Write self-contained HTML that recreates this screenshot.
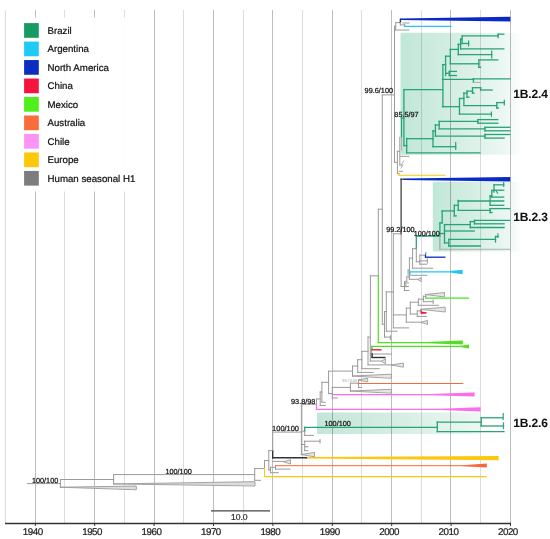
<!DOCTYPE html>
<html><head><meta charset="utf-8"><style>
html,body{margin:0;padding:0;background:#fff;width:550px;height:539px;overflow:hidden}
svg{display:block;font-family:"Liberation Sans",Arial,sans-serif}
text{stroke:#111;stroke-width:0.22px;paint-order:stroke;text-rendering:geometricPrecision}
</style></head><body>
<svg width="550" height="539" viewBox="0 0 550 539">

<line x1="5.5" y1="10" x2="5.5" y2="523.5" stroke="#dcdcdc" stroke-width="1"/>
<line x1="35.5" y1="10" x2="35.5" y2="523.5" stroke="#bdbdbd" stroke-width="1"/>
<line x1="64.5" y1="10" x2="64.5" y2="523.5" stroke="#dcdcdc" stroke-width="1"/>
<line x1="94.5" y1="10" x2="94.5" y2="523.5" stroke="#bdbdbd" stroke-width="1"/>
<line x1="124.5" y1="10" x2="124.5" y2="523.5" stroke="#dcdcdc" stroke-width="1"/>
<line x1="154.5" y1="10" x2="154.5" y2="523.5" stroke="#bdbdbd" stroke-width="1"/>
<line x1="183.5" y1="10" x2="183.5" y2="523.5" stroke="#dcdcdc" stroke-width="1"/>
<line x1="213.5" y1="10" x2="213.5" y2="523.5" stroke="#bdbdbd" stroke-width="1"/>
<line x1="243.5" y1="10" x2="243.5" y2="523.5" stroke="#dcdcdc" stroke-width="1"/>
<line x1="272.5" y1="10" x2="272.5" y2="523.5" stroke="#bdbdbd" stroke-width="1"/>
<line x1="302.5" y1="10" x2="302.5" y2="523.5" stroke="#dcdcdc" stroke-width="1"/>
<line x1="332.5" y1="10" x2="332.5" y2="523.5" stroke="#bdbdbd" stroke-width="1"/>
<line x1="361.5" y1="10" x2="361.5" y2="523.5" stroke="#dcdcdc" stroke-width="1"/>
<line x1="391.5" y1="10" x2="391.5" y2="523.5" stroke="#bdbdbd" stroke-width="1"/>
<line x1="421.5" y1="10" x2="421.5" y2="523.5" stroke="#dcdcdc" stroke-width="1"/>
<line x1="450.5" y1="10" x2="450.5" y2="523.5" stroke="#bdbdbd" stroke-width="1"/>
<line x1="480.5" y1="10" x2="480.5" y2="523.5" stroke="#dcdcdc" stroke-width="1"/>
<line x1="510.5" y1="10" x2="510.5" y2="523.5" stroke="#bdbdbd" stroke-width="1"/>
<defs>
<linearGradient id="g1" x1="0" x2="1" y1="0" y2="0">
<stop offset="0" stop-color="#c0e7d7"/><stop offset="0.5" stop-color="#d7efe5"/><stop offset="0.86" stop-color="#ecf7f3"/><stop offset="1" stop-color="#fdfefd"/></linearGradient>
<linearGradient id="g2" x1="0" x2="1" y1="0" y2="0">
<stop offset="0" stop-color="#c2e6d7"/><stop offset="0.5" stop-color="#d6eee4"/><stop offset="1" stop-color="#edf8f3"/></linearGradient>
</defs>
<rect x="400.5" y="32.7" width="120.5" height="122.1" rx="1.8" fill="url(#g1)" style="mix-blend-mode:multiply"/>
<rect x="432.8" y="181.7" width="88" height="69.9" rx="1" fill="url(#g1)" style="mix-blend-mode:multiply"/>
<rect x="317" y="412.4" width="163.5" height="21.6" rx="0.5" fill="url(#g2)" style="mix-blend-mode:multiply"/>
<line x1="5" y1="523.5" x2="511" y2="523.5" stroke="#333" stroke-width="1.3"/>
<line x1="35.3" y1="523" x2="35.3" y2="526" stroke="#333" stroke-width="1"/>
<text x="32.7" y="534.7" font-size="9.8" text-anchor="middle" fill="#222" letter-spacing="-0.5">1940</text>
<line x1="94.7" y1="523" x2="94.7" y2="526" stroke="#333" stroke-width="1"/>
<text x="92.1" y="534.7" font-size="9.8" text-anchor="middle" fill="#222" letter-spacing="-0.5">1950</text>
<line x1="154.1" y1="523" x2="154.1" y2="526" stroke="#333" stroke-width="1"/>
<text x="151.5" y="534.7" font-size="9.8" text-anchor="middle" fill="#222" letter-spacing="-0.5">1960</text>
<line x1="213.5" y1="523" x2="213.5" y2="526" stroke="#333" stroke-width="1"/>
<text x="210.9" y="534.7" font-size="9.8" text-anchor="middle" fill="#222" letter-spacing="-0.5">1970</text>
<line x1="272.9" y1="523" x2="272.9" y2="526" stroke="#333" stroke-width="1"/>
<text x="270.3" y="534.7" font-size="9.8" text-anchor="middle" fill="#222" letter-spacing="-0.5">1980</text>
<line x1="332.3" y1="523" x2="332.3" y2="526" stroke="#333" stroke-width="1"/>
<text x="329.7" y="534.7" font-size="9.8" text-anchor="middle" fill="#222" letter-spacing="-0.5">1990</text>
<line x1="391.7" y1="523" x2="391.7" y2="526" stroke="#333" stroke-width="1"/>
<text x="389.1" y="534.7" font-size="9.8" text-anchor="middle" fill="#222" letter-spacing="-0.5">2000</text>
<line x1="451.1" y1="523" x2="451.1" y2="526" stroke="#333" stroke-width="1"/>
<text x="448.5" y="534.7" font-size="9.8" text-anchor="middle" fill="#222" letter-spacing="-0.5">2010</text>
<line x1="510.5" y1="523" x2="510.5" y2="526" stroke="#333" stroke-width="1"/>
<text x="507.9" y="534.7" font-size="9.8" text-anchor="middle" fill="#222" letter-spacing="-0.5">2020</text>
<line x1="211" y1="510.9" x2="270" y2="510.9" stroke="#444" stroke-width="1.3"/>
<text x="239.3" y="520.4" font-size="8.6" text-anchor="middle" fill="#333">10.0</text>
<text x="513.3" y="98.3" font-size="12" font-weight="bold" fill="#111" letter-spacing="-0.15" style="stroke-width:0.05px">1B.2.4</text>
<text x="513.3" y="221" font-size="12" font-weight="bold" fill="#111" letter-spacing="-0.15" style="stroke-width:0.05px">1B.2.3</text>
<text x="513.3" y="427.1" font-size="12" font-weight="bold" fill="#111" letter-spacing="-0.15" style="stroke-width:0.05px">1B.2.6</text>
<rect x="16" y="17.5" width="130" height="174" fill="#fff" opacity="0.94"/>
<rect x="24.1" y="23.10" width="14.7" height="14.7" fill="#169b62"/>
<text x="47.5" y="33.80" font-size="9.7" fill="#111">Brazil</text>
<rect x="24.1" y="41.58" width="14.7" height="14.7" fill="#1ecbf5"/>
<text x="47.5" y="52.28" font-size="9.7" fill="#111">Argentina</text>
<rect x="24.1" y="60.06" width="14.7" height="14.7" fill="#0a2fc0"/>
<text x="47.5" y="70.76" font-size="9.7" fill="#111">North America</text>
<rect x="24.1" y="78.54" width="14.7" height="14.7" fill="#f5133f"/>
<text x="47.5" y="89.24" font-size="9.7" fill="#111">China</text>
<rect x="24.1" y="97.02" width="14.7" height="14.7" fill="#4ef01c"/>
<text x="47.5" y="107.72" font-size="9.7" fill="#111">Mexico</text>
<rect x="24.1" y="115.50" width="14.7" height="14.7" fill="#f96c3c"/>
<text x="47.5" y="126.20" font-size="9.7" fill="#111">Australia</text>
<rect x="24.1" y="133.98" width="14.7" height="14.7" fill="#fb94f5"/>
<text x="47.5" y="144.68" font-size="9.7" fill="#111">Chile</text>
<rect x="24.1" y="152.46" width="14.7" height="14.7" fill="#fec80a"/>
<text x="47.5" y="163.16" font-size="9.7" fill="#111">Europe</text>
<rect x="24.1" y="170.94" width="14.7" height="14.7" fill="#7d7d7d"/>
<text x="47.5" y="181.64" font-size="9.7" fill="#111">Human seasonal H1</text>
<g stroke-linecap="square">
<line x1="27.4" y1="483.6" x2="60.4" y2="483.6" stroke="#9a9a9a" stroke-width="1"/>
<line x1="60.4" y1="479.5" x2="60.4" y2="487.2" stroke="#9a9a9a" stroke-width="1"/>
<line x1="60.4" y1="479.5" x2="113.6" y2="479.5" stroke="#9a9a9a" stroke-width="1"/>
<polygon points="60.4,487.2 136.3,486 136.3,489.3" fill="#dcdcdc" stroke="#9a9a9a" stroke-width="0.9"/>
<line x1="113.6" y1="474.6" x2="113.6" y2="483.9" stroke="#9a9a9a" stroke-width="1"/>
<line x1="113.6" y1="474.6" x2="254.7" y2="474.6" stroke="#9a9a9a" stroke-width="1"/>
<polygon points="113.6,483.9 255,481.7 255,485.5" fill="#dcdcdc" stroke="#9a9a9a" stroke-width="0.9"/>
<line x1="254.7" y1="468.6" x2="254.7" y2="480.3" stroke="#9a9a9a" stroke-width="1"/>
<line x1="254.7" y1="480.3" x2="260.5" y2="480.3" stroke="#9a9a9a" stroke-width="1"/>
<line x1="254.7" y1="468.6" x2="264.5" y2="468.6" stroke="#9a9a9a" stroke-width="1"/>
<line x1="264.5" y1="460.5" x2="264.5" y2="468.6" stroke="#9a9a9a" stroke-width="1"/>
<line x1="264.5" y1="468.6" x2="264.5" y2="476.6" stroke="#fdc612" stroke-width="1"/>
<line x1="264.5" y1="476.6" x2="486.2" y2="476.6" stroke="#fdc612" stroke-width="1.1"/>
<line x1="264.5" y1="460.5" x2="268.8" y2="460.5" stroke="#9a9a9a" stroke-width="1"/>
<line x1="268.8" y1="450.6" x2="268.8" y2="470" stroke="#9a9a9a" stroke-width="1"/>
<line x1="268.8" y1="450.6" x2="272.7" y2="450.6" stroke="#9a9a9a" stroke-width="1"/>
<line x1="268.8" y1="470" x2="270.5" y2="470" stroke="#9a9a9a" stroke-width="1"/>
<line x1="270.5" y1="467.3" x2="270.5" y2="472.7" stroke="#9a9a9a" stroke-width="1"/>
<line x1="270.5" y1="467.3" x2="275.5" y2="467.3" stroke="#9a9a9a" stroke-width="1"/>
<line x1="275.5" y1="465.7" x2="275.5" y2="469.1" stroke="#9a9a9a" stroke-width="1"/>
<line x1="275.5" y1="465.7" x2="462" y2="465.7" stroke="#f7683a" stroke-width="1"/>
<polygon points="462,465.2 486.8,463.5 486.8,467.5 462,466.2" fill="#f7683a"/>
<line x1="275.5" y1="469.1" x2="290" y2="469.1" stroke="#9a9a9a" stroke-width="1"/>
<line x1="270.5" y1="472.7" x2="278.3" y2="472.7" stroke="#9a9a9a" stroke-width="1"/>
<line x1="272.7" y1="461.4" x2="284" y2="461.4" stroke="#9a9a9a" stroke-width="1"/>
<polygon points="284,461.6 290.5,459.70000000000005 290.5,463.5" fill="#e6e6e6" stroke="#9a9a9a" stroke-width="0.9" stroke-linejoin="miter"/>
<line x1="272.7" y1="450.6" x2="272.7" y2="457.7" stroke="#333333" stroke-width="1.4"/>
<line x1="272.7" y1="457.7" x2="307" y2="457.7" stroke="#333333" stroke-width="1.4"/>
<polygon points="307,457 498.6,455.9 498.6,460.3 307,458.5" fill="#fdc612"/>
<line x1="272.7" y1="432.1" x2="272.7" y2="450.6" stroke="#9a9a9a" stroke-width="1"/>
<line x1="272.7" y1="432.1" x2="301.4" y2="432.1" stroke="#9a9a9a" stroke-width="1"/>
<line x1="301.4" y1="404.2" x2="301.4" y2="454.6" stroke="#9a9a9a" stroke-width="1"/>
<line x1="301.4" y1="404.2" x2="316.5" y2="404.2" stroke="#9a9a9a" stroke-width="1"/>
<line x1="301.4" y1="431.2" x2="304.7" y2="431.2" stroke="#9a9a9a" stroke-width="1"/>
<line x1="304.7" y1="427.3" x2="304.7" y2="431.2" stroke="#27a375" stroke-width="1.3"/>
<line x1="304.7" y1="427.3" x2="437.3" y2="427.3" stroke="#27a375" stroke-width="1.3"/>
<line x1="304.7" y1="431.2" x2="304.7" y2="435.4" stroke="#9a9a9a" stroke-width="1"/>
<line x1="304.7" y1="435.4" x2="313.4" y2="435.4" stroke="#9a9a9a" stroke-width="1"/>
<line x1="301.4" y1="444.5" x2="304.7" y2="444.5" stroke="#9a9a9a" stroke-width="1"/>
<line x1="304.7" y1="441.2" x2="304.7" y2="450.7" stroke="#9a9a9a" stroke-width="1"/>
<line x1="304.7" y1="441.2" x2="320" y2="441.2" stroke="#9a9a9a" stroke-width="1"/>
<line x1="320" y1="439.5" x2="320" y2="443" stroke="#9a9a9a" stroke-width="1"/>
<line x1="304.7" y1="446.8" x2="308" y2="446.8" stroke="#9a9a9a" stroke-width="1"/>
<line x1="304.7" y1="450.7" x2="308" y2="450.7" stroke="#9a9a9a" stroke-width="1"/>
<polygon points="301.4,454.4 314.5,452.5 314.5,456.29999999999995" fill="#e6e6e6" stroke="#9a9a9a" stroke-width="0.9" stroke-linejoin="miter"/>
<line x1="437.3" y1="422.2" x2="437.3" y2="431.6" stroke="#27a375" stroke-width="1.3"/>
<line x1="437.3" y1="422.2" x2="481.2" y2="422.2" stroke="#27a375" stroke-width="1.3"/>
<line x1="437.3" y1="431.7" x2="504" y2="431.7" stroke="#27a375" stroke-width="1.3"/>
<line x1="481.2" y1="417.8" x2="481.2" y2="426" stroke="#27a375" stroke-width="1.3"/>
<line x1="481.2" y1="417.8" x2="502.5" y2="417.8" stroke="#27a375" stroke-width="1.3"/>
<line x1="481.2" y1="426" x2="503.5" y2="426" stroke="#27a375" stroke-width="1.3"/>
<line x1="503.2" y1="413.5" x2="503.2" y2="419.5" stroke="#27a375" stroke-width="1.2"/>
<line x1="503.5" y1="423" x2="503.5" y2="428.5" stroke="#27a375" stroke-width="1.2"/>
<line x1="316.5" y1="399" x2="316.5" y2="404.2" stroke="#9a9a9a" stroke-width="1"/>
<line x1="316.5" y1="404.2" x2="316.5" y2="409.3" stroke="#fb6cef" stroke-width="1.2"/>
<line x1="316.5" y1="409.3" x2="440" y2="409.3" stroke="#fb6cef" stroke-width="1.2"/>
<polygon points="440,408.7 480.6,407.2 480.6,411.40000000000003 440,409.90000000000003" fill="#fb6cef"/>
<line x1="316.5" y1="399" x2="320.2" y2="399" stroke="#9a9a9a" stroke-width="1"/>
<line x1="320.2" y1="392" x2="320.2" y2="405.5" stroke="#9a9a9a" stroke-width="1"/>
<line x1="320.2" y1="392" x2="321.9" y2="392" stroke="#9a9a9a" stroke-width="1"/>
<line x1="320.2" y1="405.5" x2="325.3" y2="405.5" stroke="#9a9a9a" stroke-width="1"/>
<line x1="321.9" y1="382.3" x2="321.9" y2="402.2" stroke="#9a9a9a" stroke-width="1"/>
<line x1="321.9" y1="402.2" x2="325.3" y2="402.2" stroke="#9a9a9a" stroke-width="1"/>
<line x1="321.9" y1="382.3" x2="328.6" y2="382.3" stroke="#9a9a9a" stroke-width="1"/>
<line x1="328.6" y1="371.3" x2="328.6" y2="393.6" stroke="#9a9a9a" stroke-width="1"/>
<line x1="328.6" y1="393.6" x2="332.3" y2="393.6" stroke="#9a9a9a" stroke-width="1"/>
<line x1="332.3" y1="387.4" x2="332.3" y2="394.5" stroke="#9a9a9a" stroke-width="1"/>
<line x1="332.5" y1="394.6" x2="430" y2="394.6" stroke="#fb6cef" stroke-width="1.2"/>
<polygon points="430,394.0 474.6,392.6 474.6,396.6 430,395.20000000000005" fill="#fb6cef"/>
<line x1="332.3" y1="398" x2="337.4" y2="398" stroke="#9a9a9a" stroke-width="1"/>
<line x1="332.3" y1="394.5" x2="332.3" y2="398" stroke="#9a9a9a" stroke-width="1"/>
<line x1="332.3" y1="387.4" x2="350.4" y2="387.4" stroke="#9a9a9a" stroke-width="1"/>
<line x1="350.4" y1="383.2" x2="350.4" y2="391" stroke="#9a9a9a" stroke-width="1"/>
<polygon points="350.4,391 391.4,389.3 391.4,392.7" fill="#e6e6e6" stroke="#9a9a9a" stroke-width="0.9" stroke-linejoin="miter"/>
<line x1="350.4" y1="383.2" x2="358.5" y2="383.2" stroke="#9a9a9a" stroke-width="1"/>
<line x1="358.5" y1="379.8" x2="358.5" y2="387.4" stroke="#9a9a9a" stroke-width="1"/>
<polygon points="358.5,379.8 367.7,378.3 367.7,381.3" fill="#e6e6e6" stroke="#9a9a9a" stroke-width="0.9" stroke-linejoin="miter"/>
<line x1="358.5" y1="383.5" x2="462.8" y2="383.5" stroke="#f7683a" stroke-width="1.1"/>
<line x1="358.5" y1="387.4" x2="361.3" y2="387.4" stroke="#9a9a9a" stroke-width="1"/>
<text x="349.7" y="382.4" font-size="3.8" fill="#a0a0a0" style="stroke:none" text-anchor="middle">99.7/100</text>
<line x1="328.6" y1="371.1" x2="352.5" y2="371.1" stroke="#9a9a9a" stroke-width="1"/>
<line x1="352.5" y1="366.1" x2="352.5" y2="376" stroke="#9a9a9a" stroke-width="1"/>
<polygon points="352.5,376 391.4,374.2 391.4,377.8" fill="#e6e6e6" stroke="#9a9a9a" stroke-width="0.9" stroke-linejoin="miter"/>
<line x1="352.5" y1="366.1" x2="357.7" y2="366.1" stroke="#9a9a9a" stroke-width="1"/>
<line x1="357.7" y1="359.7" x2="357.7" y2="372.6" stroke="#9a9a9a" stroke-width="1"/>
<line x1="357.7" y1="372.4" x2="373.3" y2="372.4" stroke="#9a9a9a" stroke-width="1"/>
<line x1="357.7" y1="359.7" x2="361.9" y2="359.7" stroke="#9a9a9a" stroke-width="1"/>
<line x1="361.9" y1="351.3" x2="361.9" y2="368.7" stroke="#9a9a9a" stroke-width="1"/>
<line x1="361.9" y1="368.7" x2="379.3" y2="368.7" stroke="#9a9a9a" stroke-width="1"/>
<line x1="361.9" y1="351.3" x2="368" y2="351.3" stroke="#9a9a9a" stroke-width="1"/>
<line x1="368" y1="337.1" x2="368" y2="364.9" stroke="#9a9a9a" stroke-width="1"/>
<line x1="368" y1="364.9" x2="391.4" y2="364.9" stroke="#9a9a9a" stroke-width="1"/>
<polygon points="391.4,364.9 403.4,363.09999999999997 403.4,366.7" fill="#e6e6e6" stroke="#9a9a9a" stroke-width="0.9" stroke-linejoin="miter"/>
<line x1="368" y1="337.1" x2="370.2" y2="337.1" stroke="#9a9a9a" stroke-width="1"/>
<line x1="370.3" y1="313.6" x2="370.3" y2="361" stroke="#9a9a9a" stroke-width="1"/>
<line x1="371.4" y1="346.4" x2="371.4" y2="357.5" stroke="#9a9a9a" stroke-width="1"/>
<line x1="370.3" y1="361" x2="382" y2="361" stroke="#9a9a9a" stroke-width="1"/>
<polygon points="382,361 385.4,358.7 385.4,363.3" fill="#e6e6e6" stroke="#9a9a9a" stroke-width="0.9" stroke-linejoin="miter"/>
<line x1="370.3" y1="354" x2="391.4" y2="354" stroke="#9a9a9a" stroke-width="1"/>
<line x1="372.2" y1="346.4" x2="372.2" y2="349.8" stroke="#4fe01f" stroke-width="1.2"/>
<line x1="372.2" y1="346.4" x2="460.5" y2="346.4" stroke="#4fe01f" stroke-width="1.2"/>
<polygon points="460.5,345.8 469,344.5 469,348.6 460.5,347" fill="#4fe01f"/>
<line x1="372.2" y1="349.8" x2="380.9" y2="349.8" stroke="#f0184a" stroke-width="1.4"/>
<line x1="372.2" y1="353.5" x2="372.2" y2="357.5" stroke="#333333" stroke-width="1.2"/>
<line x1="372.2" y1="357.5" x2="384.8" y2="357.5" stroke="#333333" stroke-width="1.4"/>
<line x1="370.4" y1="275.8" x2="370.4" y2="313.6" stroke="#9a9a9a" stroke-width="1"/>
<line x1="370.4" y1="275.8" x2="378.3" y2="275.8" stroke="#9a9a9a" stroke-width="1"/>
<line x1="378.3" y1="209.2" x2="378.3" y2="275.8" stroke="#9a9a9a" stroke-width="1"/>
<line x1="378.3" y1="275.8" x2="378.3" y2="342.6" stroke="#4fe01f" stroke-width="1.2"/>
<line x1="378.3" y1="342.6" x2="425" y2="342.6" stroke="#4fe01f" stroke-width="1.2"/>
<polygon points="425,341.9 462.8,340.5 462.8,344.5 425,343.3" fill="#4fe01f"/>
<line x1="378.3" y1="209.2" x2="382.3" y2="209.2" stroke="#9a9a9a" stroke-width="1"/>
<line x1="382.3" y1="94.9" x2="382.3" y2="324.2" stroke="#9a9a9a" stroke-width="1"/>
<line x1="382.3" y1="94.9" x2="394.5" y2="94.9" stroke="#9a9a9a" stroke-width="1"/>
<line x1="382.3" y1="324.2" x2="384.5" y2="324.2" stroke="#9a9a9a" stroke-width="1"/>
<line x1="384.5" y1="311.5" x2="384.5" y2="337.1" stroke="#9a9a9a" stroke-width="1"/>
<line x1="384.5" y1="337.1" x2="390.4" y2="337.1" stroke="#9a9a9a" stroke-width="1"/>
<line x1="390.4" y1="335.7" x2="390.4" y2="339.6" stroke="#9a9a9a" stroke-width="1"/>
<line x1="384.5" y1="311.5" x2="386.3" y2="311.5" stroke="#9a9a9a" stroke-width="1"/>
<line x1="386.3" y1="291.9" x2="386.3" y2="331.2" stroke="#9a9a9a" stroke-width="1"/>
<line x1="386.3" y1="331.2" x2="397" y2="331.2" stroke="#9a9a9a" stroke-width="1"/>
<line x1="386.3" y1="291.9" x2="393.3" y2="291.9" stroke="#9a9a9a" stroke-width="1"/>
<line x1="393.3" y1="233.8" x2="393.3" y2="327.9" stroke="#9a9a9a" stroke-width="1"/>
<line x1="393.3" y1="327.9" x2="408.7" y2="327.9" stroke="#9a9a9a" stroke-width="1"/>
<line x1="393.3" y1="314.9" x2="406.3" y2="314.9" stroke="#9a9a9a" stroke-width="1"/>
<line x1="406.3" y1="308.4" x2="406.3" y2="322.2" stroke="#9a9a9a" stroke-width="1"/>
<line x1="406.3" y1="322.2" x2="421.7" y2="322.2" stroke="#9a9a9a" stroke-width="1"/>
<polygon points="421.7,322.2 427.5,320.4 427.5,324.0" fill="#e6e6e6" stroke="#9a9a9a" stroke-width="0.9" stroke-linejoin="miter"/>
<line x1="406.3" y1="308.1" x2="410.3" y2="308.1" stroke="#9a9a9a" stroke-width="1"/>
<line x1="410.3" y1="302.2" x2="410.3" y2="314" stroke="#9a9a9a" stroke-width="1"/>
<line x1="410.3" y1="302.2" x2="418.4" y2="302.2" stroke="#9a9a9a" stroke-width="1"/>
<line x1="417.3" y1="310.9" x2="417.3" y2="316.4" stroke="#9a9a9a" stroke-width="1"/>
<line x1="410.3" y1="314" x2="417.3" y2="314" stroke="#9a9a9a" stroke-width="1"/>
<line x1="417.3" y1="310.9" x2="421.1" y2="310.9" stroke="#9a9a9a" stroke-width="1"/>
<line x1="421.1" y1="309.3" x2="421.1" y2="310.9" stroke="#9a9a9a" stroke-width="1"/>
<polygon points="421.1,309.3 445.2,307.1 445.2,311.5" fill="#e6e6e6" stroke="#9a9a9a" stroke-width="0.9" stroke-linejoin="miter"/>
<line x1="421.1" y1="310.9" x2="421.1" y2="312.8" stroke="#f0184a" stroke-width="1.2"/>
<polygon points="421.1,311.6 426.7,312.2 426.7,313.6 421.1,314" fill="#f0184a"/>
<line x1="417.3" y1="316.4" x2="426.7" y2="316.4" stroke="#9a9a9a" stroke-width="1"/>
<line x1="418.4" y1="299.2" x2="418.4" y2="305.3" stroke="#9a9a9a" stroke-width="1"/>
<line x1="418.4" y1="305.3" x2="438.6" y2="305.3" stroke="#9a9a9a" stroke-width="1"/>
<line x1="418.4" y1="299.2" x2="423.4" y2="299.2" stroke="#9a9a9a" stroke-width="1"/>
<line x1="423.4" y1="296.1" x2="423.4" y2="301.7" stroke="#9a9a9a" stroke-width="1"/>
<line x1="423.4" y1="301.7" x2="433.1" y2="301.7" stroke="#9a9a9a" stroke-width="1"/>
<line x1="433.1" y1="300" x2="433.1" y2="303.4" stroke="#9a9a9a" stroke-width="1"/>
<line x1="423.4" y1="296.3" x2="425.8" y2="296.3" stroke="#9a9a9a" stroke-width="1"/>
<line x1="425.8" y1="294.5" x2="425.8" y2="298.2" stroke="#9a9a9a" stroke-width="1"/>
<polygon points="425.8,294.5 444.5,292.55 444.5,296.45" fill="#e6e6e6" stroke="#9a9a9a" stroke-width="0.9" stroke-linejoin="miter"/>
<line x1="425.8" y1="298.2" x2="468.5" y2="298.2" stroke="#4fe01f" stroke-width="1.2"/>
<line x1="393.3" y1="233.8" x2="401.1" y2="233.8" stroke="#9a9a9a" stroke-width="1"/>
<line x1="401.1" y1="179.2" x2="401.1" y2="233.8" stroke="#333333" stroke-width="1.2"/>
<line x1="401.1" y1="179.2" x2="403.7" y2="179.2" stroke="#333333" stroke-width="1.2"/>
<polygon points="403.7,178.5 510.3,177 510.3,181.4 403.7,180" fill="#0a2ac8"/>
<line x1="401.1" y1="233.8" x2="401.1" y2="286.5" stroke="#9a9a9a" stroke-width="1"/>
<line x1="401.1" y1="286.5" x2="404.5" y2="286.5" stroke="#9a9a9a" stroke-width="1"/>
<line x1="404.5" y1="281.6" x2="404.5" y2="290.5" stroke="#9a9a9a" stroke-width="1"/>
<line x1="404.5" y1="290.5" x2="408.8" y2="290.5" stroke="#9a9a9a" stroke-width="1"/>
<line x1="405.8" y1="281" x2="405.8" y2="286.9" stroke="#9a9a9a" stroke-width="1"/>
<line x1="405.8" y1="286.5" x2="408.4" y2="286.5" stroke="#9a9a9a" stroke-width="1"/>
<line x1="406.8" y1="276.7" x2="406.8" y2="281.6" stroke="#9a9a9a" stroke-width="1"/>
<line x1="406.8" y1="282.9" x2="408.4" y2="282.9" stroke="#9a9a9a" stroke-width="1"/>
<line x1="408.1" y1="270.2" x2="408.1" y2="277.7" stroke="#9a9a9a" stroke-width="1"/>
<line x1="408.1" y1="270.2" x2="409.4" y2="270.2" stroke="#9a9a9a" stroke-width="1"/>
<line x1="409.4" y1="258.1" x2="409.4" y2="279.3" stroke="#9a9a9a" stroke-width="1"/>
<line x1="409.4" y1="279.3" x2="418.3" y2="279.3" stroke="#9a9a9a" stroke-width="1"/>
<polygon points="418.3,279.3 421.2,277.5 421.2,281.1" fill="#e6e6e6" stroke="#9a9a9a" stroke-width="0.9" stroke-linejoin="miter"/>
<line x1="410.1" y1="271.8" x2="410.1" y2="274" stroke="#22c6f2" stroke-width="1.2"/>
<line x1="410.1" y1="271.8" x2="450" y2="271.8" stroke="#22c6f2" stroke-width="1.2"/>
<polygon points="450,271.1 462.6,269.8 462.6,274.2 450,272.5" fill="#22c6f2"/>
<line x1="410.7" y1="275.3" x2="426.8" y2="275.3" stroke="#9a9a9a" stroke-width="1"/>
<line x1="409.4" y1="258.1" x2="412.6" y2="258.1" stroke="#9a9a9a" stroke-width="1"/>
<line x1="412.6" y1="248.7" x2="412.6" y2="268.2" stroke="#9a9a9a" stroke-width="1"/>
<line x1="412.6" y1="268.2" x2="432.7" y2="268.2" stroke="#9a9a9a" stroke-width="1"/>
<line x1="412.6" y1="248.7" x2="416.3" y2="248.7" stroke="#9a9a9a" stroke-width="1"/>
<line x1="416.3" y1="236.1" x2="416.3" y2="248.7" stroke="#27a375" stroke-width="1.3"/>
<line x1="416.3" y1="248.7" x2="416.3" y2="261.7" stroke="#9a9a9a" stroke-width="1"/>
<line x1="416.3" y1="261.7" x2="419.8" y2="261.7" stroke="#9a9a9a" stroke-width="1"/>
<line x1="419.8" y1="255.2" x2="419.8" y2="264.2" stroke="#9a9a9a" stroke-width="1"/>
<line x1="419.8" y1="255.2" x2="425.5" y2="255.2" stroke="#9a9a9a" stroke-width="1"/>
<line x1="425.5" y1="253.1" x2="425.5" y2="255.2" stroke="#9a9a9a" stroke-width="1"/>
<line x1="425.5" y1="253.1" x2="426.7" y2="253.1" stroke="#9a9a9a" stroke-width="1"/>
<line x1="425.5" y1="255.2" x2="425.5" y2="257.2" stroke="#0a2ac8" stroke-width="1.2"/>
<line x1="425.5" y1="257.2" x2="444.8" y2="257.2" stroke="#0a2ac8" stroke-width="1.3"/>
<line x1="419.8" y1="260.9" x2="427.3" y2="260.9" stroke="#9a9a9a" stroke-width="1"/>
<line x1="427.3" y1="258.8" x2="427.3" y2="263" stroke="#9a9a9a" stroke-width="1"/>
<line x1="419.8" y1="264.2" x2="426.7" y2="264.2" stroke="#9a9a9a" stroke-width="1"/>
<line x1="416.3" y1="236.1" x2="439.9" y2="236.1" stroke="#27a375" stroke-width="1.3"/>
<line x1="439.9" y1="222.9" x2="439.9" y2="236.1" stroke="#27a375" stroke-width="1.3"/>
<line x1="439.9" y1="236.1" x2="439.9" y2="249.3" stroke="#9a9a9a" stroke-width="1"/>
<line x1="439.9" y1="249.3" x2="510" y2="249.3" stroke="#b0b0b0" stroke-width="1"/>
<line x1="439.9" y1="222.9" x2="442.2" y2="222.9" stroke="#27a375" stroke-width="1.3"/>
<line x1="442.2" y1="210.9" x2="442.2" y2="222.9" stroke="#27a375" stroke-width="1.3"/>
<line x1="442.2" y1="210.9" x2="454.3" y2="210.9" stroke="#27a375" stroke-width="1.3"/>
<line x1="454.3" y1="205.3" x2="454.3" y2="215.9" stroke="#27a375" stroke-width="1.3"/>
<line x1="454.3" y1="215.9" x2="456.2" y2="215.9" stroke="#27a375" stroke-width="1.3"/>
<line x1="454.3" y1="205.3" x2="458.2" y2="205.3" stroke="#27a375" stroke-width="1.3"/>
<line x1="458.2" y1="200.5" x2="458.2" y2="210.3" stroke="#27a375" stroke-width="1.3"/>
<line x1="458.2" y1="201.0" x2="503.7" y2="201.0" stroke="#27a375" stroke-width="1.3"/>
<line x1="458.2" y1="210.3" x2="490.1" y2="210.3" stroke="#27a375" stroke-width="1.3"/>
<line x1="490.1" y1="195.9" x2="490.1" y2="205.3" stroke="#27a375" stroke-width="1.3"/>
<line x1="490.1" y1="205.3" x2="503.7" y2="205.3" stroke="#27a375" stroke-width="1.3"/>
<line x1="490.1" y1="195.9" x2="491.8" y2="195.9" stroke="#27a375" stroke-width="1.3"/>
<line x1="491.8" y1="190.5" x2="491.8" y2="197.1" stroke="#27a375" stroke-width="1.3"/>
<line x1="491.8" y1="197.1" x2="503.7" y2="197.1" stroke="#27a375" stroke-width="1.3"/>
<line x1="491.8" y1="190.5" x2="494" y2="190.5" stroke="#27a375" stroke-width="1.3"/>
<line x1="494" y1="184.8" x2="494" y2="192" stroke="#27a375" stroke-width="1.3"/>
<line x1="494" y1="184.8" x2="503.7" y2="184.8" stroke="#27a375" stroke-width="1.3"/>
<line x1="503.7" y1="182.5" x2="503.7" y2="186.5" stroke="#27a375" stroke-width="1.2"/>
<line x1="494" y1="190.2" x2="503.7" y2="190.2" stroke="#27a375" stroke-width="1.3"/>
<path d="M496 190.5 L497.6 193.2" stroke="#27a375" stroke-width="1.1" fill="none"/>
<line x1="490.1" y1="208.6" x2="490.1" y2="212.5" stroke="#27a375" stroke-width="1.3"/>
<line x1="490.1" y1="208.6" x2="509.5" y2="208.6" stroke="#27a375" stroke-width="1.3"/>
<line x1="490.1" y1="212.5" x2="492" y2="212.5" stroke="#27a375" stroke-width="1.3"/>
<line x1="439.9" y1="233.5" x2="444.5" y2="233.5" stroke="#27a375" stroke-width="1.3"/>
<line x1="444.5" y1="224.6" x2="444.5" y2="242.9" stroke="#27a375" stroke-width="1.3"/>
<line x1="444.5" y1="224.6" x2="470.3" y2="224.6" stroke="#27a375" stroke-width="1.3"/>
<line x1="444.5" y1="231.0" x2="474.2" y2="231.0" stroke="#27a375" stroke-width="1.3"/>
<line x1="470.3" y1="221.6" x2="470.3" y2="227.5" stroke="#27a375" stroke-width="1.3"/>
<line x1="470.3" y1="221.6" x2="474.5" y2="221.6" stroke="#27a375" stroke-width="1.3"/>
<line x1="470.3" y1="227.5" x2="504.1" y2="227.5" stroke="#27a375" stroke-width="1.3"/>
<line x1="474.5" y1="220.3" x2="474.5" y2="223.8" stroke="#27a375" stroke-width="1.3"/>
<line x1="474.5" y1="220.3" x2="509.5" y2="220.3" stroke="#27a375" stroke-width="1.3"/>
<line x1="474.5" y1="223.8" x2="504.1" y2="223.8" stroke="#27a375" stroke-width="1.3"/>
<line x1="444.5" y1="242.9" x2="448.6" y2="242.9" stroke="#27a375" stroke-width="1.3"/>
<line x1="448.8" y1="239.3" x2="448.8" y2="246" stroke="#27a375" stroke-width="1.3"/>
<line x1="448.8" y1="239.3" x2="495.5" y2="239.3" stroke="#27a375" stroke-width="1.3"/>
<line x1="448.8" y1="246" x2="480.3" y2="246" stroke="#27a375" stroke-width="1.3"/>
<line x1="495.5" y1="236.5" x2="495.5" y2="242" stroke="#27a375" stroke-width="1.3"/>
<line x1="495.5" y1="236.5" x2="497.9" y2="236.5" stroke="#27a375" stroke-width="1.3"/>
<line x1="497.9" y1="234" x2="497.9" y2="237.5" stroke="#27a375" stroke-width="1.2"/>
<line x1="394.5" y1="26.3" x2="394.5" y2="162.3" stroke="#9a9a9a" stroke-width="1"/>
<line x1="394.5" y1="162.3" x2="397.4" y2="162.3" stroke="#9a9a9a" stroke-width="1"/>
<line x1="397.4" y1="151.3" x2="397.4" y2="173.5" stroke="#9a9a9a" stroke-width="1"/>
<line x1="397.4" y1="151.3" x2="399.6" y2="151.3" stroke="#9a9a9a" stroke-width="1"/>
<line x1="399.8" y1="137.3" x2="399.8" y2="165" stroke="#9a9a9a" stroke-width="1"/>
<line x1="399.8" y1="165" x2="401.5" y2="165" stroke="#9a9a9a" stroke-width="1"/>
<line x1="400" y1="156.3" x2="408.9" y2="156.3" stroke="#9a9a9a" stroke-width="1"/>
<line x1="397.4" y1="173.5" x2="399" y2="173.5" stroke="#9a9a9a" stroke-width="1"/>
<line x1="399" y1="173.5" x2="399" y2="175.2" stroke="#fdc612" stroke-width="1.2"/>
<line x1="399" y1="175.2" x2="444.8" y2="175.2" stroke="#fdc612" stroke-width="1.1"/>
<line x1="399" y1="171.3" x2="402.6" y2="171.3" stroke="#9a9a9a" stroke-width="1"/>
<path d="M401.5 165 L403.5 161 M401 168 L403 165" stroke="#9a9a9a" stroke-width="0.8" fill="none"/>
<line x1="394.5" y1="26.3" x2="395.7" y2="26.3" stroke="#9a9a9a" stroke-width="1"/>
<line x1="395.7" y1="22.6" x2="395.7" y2="30" stroke="#9a9a9a" stroke-width="1"/>
<line x1="395.7" y1="22.6" x2="400.4" y2="22.6" stroke="#9a9a9a" stroke-width="1"/>
<line x1="394.5" y1="30" x2="409" y2="30" stroke="#9a9a9a" stroke-width="1"/>
<line x1="400.4" y1="19.2" x2="400.4" y2="22.6" stroke="#333333" stroke-width="1.4"/>
<polygon points="400.4,18.6 510.4,16.8 510.4,21.6 400.4,19.9" fill="#0a2ac8"/>
<line x1="400.4" y1="22.6" x2="400.4" y2="24.9" stroke="#9a9a9a" stroke-width="1"/>
<line x1="400.4" y1="24.9" x2="404.6" y2="24.9" stroke="#9a9a9a" stroke-width="1"/>
<line x1="404.6" y1="24.9" x2="404.6" y2="26.3" stroke="#22c6f2" stroke-width="1.2"/>
<line x1="404.6" y1="26.3" x2="450.8" y2="26.3" stroke="#22c6f2" stroke-width="1.3"/>
<line x1="403" y1="23" x2="409" y2="23" stroke="#9a9a9a" stroke-width="1"/>
<line x1="401.5" y1="118.1" x2="401.5" y2="137.3" stroke="#27a375" stroke-width="1.3"/>
<line x1="401.5" y1="137.3" x2="401.5" y2="150" stroke="#b0b0b0" stroke-width="1"/>
<line x1="401.5" y1="118.1" x2="403.9" y2="118.1" stroke="#27a375" stroke-width="1.3"/>
<line x1="403.9" y1="89.7" x2="403.9" y2="145.6" stroke="#27a375" stroke-width="1.3"/>
<line x1="403.9" y1="89.7" x2="442.5" y2="89.7" stroke="#27a375" stroke-width="1.3"/>
<line x1="403.9" y1="145.6" x2="406.7" y2="145.6" stroke="#27a375" stroke-width="1.3"/>
<line x1="406.7" y1="138.5" x2="406.7" y2="152.8" stroke="#27a375" stroke-width="1.3"/>
<line x1="406.7" y1="138.7" x2="433" y2="138.7" stroke="#27a375" stroke-width="1.3"/>
<line x1="406.7" y1="152.8" x2="479.9" y2="152.8" stroke="#27a375" stroke-width="1.3"/>
<line x1="433" y1="131" x2="433" y2="146.7" stroke="#27a375" stroke-width="1.3"/>
<line x1="433" y1="146.7" x2="455.7" y2="146.7" stroke="#27a375" stroke-width="1.3"/>
<line x1="455.7" y1="142.6" x2="455.7" y2="149.4" stroke="#27a375" stroke-width="1.2"/>
<line x1="433" y1="131" x2="435.4" y2="131" stroke="#27a375" stroke-width="1.3"/>
<line x1="435.4" y1="125" x2="435.4" y2="136.2" stroke="#27a375" stroke-width="1.3"/>
<line x1="435.4" y1="136.2" x2="485" y2="136.2" stroke="#27a375" stroke-width="1.3"/>
<line x1="485" y1="134.5" x2="485" y2="138.1" stroke="#27a375" stroke-width="1.3"/>
<line x1="485" y1="134.5" x2="509.7" y2="134.5" stroke="#27a375" stroke-width="1.3"/>
<line x1="485" y1="138.1" x2="504" y2="138.1" stroke="#27a375" stroke-width="1.3"/>
<line x1="435.4" y1="125" x2="439.2" y2="125" stroke="#27a375" stroke-width="1.3"/>
<line x1="439.2" y1="121.3" x2="439.2" y2="128.8" stroke="#27a375" stroke-width="1.3"/>
<line x1="439.2" y1="121.3" x2="477.9" y2="121.3" stroke="#27a375" stroke-width="1.3"/>
<line x1="477.9" y1="119.6" x2="477.9" y2="123.2" stroke="#27a375" stroke-width="1.3"/>
<line x1="477.9" y1="119.6" x2="497.8" y2="119.6" stroke="#27a375" stroke-width="1.3"/>
<line x1="477.9" y1="123.2" x2="497.8" y2="123.2" stroke="#27a375" stroke-width="1.3"/>
<line x1="439.2" y1="128.8" x2="485" y2="128.8" stroke="#27a375" stroke-width="1.3"/>
<line x1="485" y1="127.3" x2="485" y2="130.8" stroke="#27a375" stroke-width="1.3"/>
<line x1="485" y1="127.3" x2="509.7" y2="127.3" stroke="#27a375" stroke-width="1.3"/>
<line x1="485" y1="130.8" x2="509.7" y2="130.8" stroke="#27a375" stroke-width="1.3"/>
<line x1="442.9" y1="64.6" x2="442.9" y2="106.7" stroke="#27a375" stroke-width="1.3"/>
<line x1="442.5" y1="106.7" x2="459.5" y2="106.7" stroke="#27a375" stroke-width="1.3"/>
<line x1="459.5" y1="98.5" x2="459.5" y2="114.1" stroke="#27a375" stroke-width="1.3"/>
<line x1="459.5" y1="114.1" x2="491.4" y2="114.1" stroke="#27a375" stroke-width="1.3"/>
<line x1="491.4" y1="112" x2="491.4" y2="116.2" stroke="#27a375" stroke-width="1.2"/>
<line x1="459.5" y1="98.5" x2="463.9" y2="98.5" stroke="#27a375" stroke-width="1.3"/>
<line x1="463.9" y1="93.1" x2="463.9" y2="105.3" stroke="#27a375" stroke-width="1.3"/>
<line x1="463.9" y1="105.6" x2="496.8" y2="105.6" stroke="#27a375" stroke-width="1.3"/>
<line x1="496.8" y1="102.6" x2="496.8" y2="108" stroke="#27a375" stroke-width="1.3"/>
<line x1="496.8" y1="102.6" x2="504.3" y2="102.6" stroke="#27a375" stroke-width="1.3"/>
<line x1="504.3" y1="100.3" x2="504.3" y2="104.9" stroke="#27a375" stroke-width="1.2"/>
<line x1="496.8" y1="108" x2="498.5" y2="108" stroke="#27a375" stroke-width="1.3"/>
<line x1="463.9" y1="93.1" x2="467" y2="93.1" stroke="#27a375" stroke-width="1.3"/>
<line x1="467" y1="91.1" x2="467" y2="97.2" stroke="#27a375" stroke-width="1.3"/>
<line x1="467" y1="97.2" x2="469" y2="97.2" stroke="#27a375" stroke-width="1.3"/>
<line x1="467" y1="91.1" x2="472.5" y2="91.1" stroke="#27a375" stroke-width="1.3"/>
<line x1="472.5" y1="87.7" x2="472.5" y2="93.1" stroke="#27a375" stroke-width="1.3"/>
<line x1="472.5" y1="87.7" x2="480.6" y2="87.7" stroke="#27a375" stroke-width="1.3"/>
<line x1="480.6" y1="87.7" x2="480.6" y2="90" stroke="#27a375" stroke-width="1.3"/>
<line x1="480.6" y1="90" x2="492.1" y2="90" stroke="#27a375" stroke-width="1.3"/>
<line x1="472.5" y1="93.1" x2="474" y2="93.1" stroke="#27a375" stroke-width="1.3"/>
<line x1="442.5" y1="79.4" x2="473.4" y2="79.4" stroke="#27a375" stroke-width="1.3"/>
<line x1="473.4" y1="78.8" x2="473.4" y2="82.4" stroke="#27a375" stroke-width="1.3"/>
<line x1="473.4" y1="78.8" x2="509.8" y2="78.8" stroke="#27a375" stroke-width="1.3"/>
<line x1="473.4" y1="82.4" x2="480" y2="82.4" stroke="#aaaaaa" stroke-width="1"/>
<line x1="442.5" y1="64.6" x2="445.6" y2="64.6" stroke="#27a375" stroke-width="1.3"/>
<line x1="445.6" y1="56.2" x2="445.6" y2="75.5" stroke="#27a375" stroke-width="1.3"/>
<line x1="445.6" y1="73.3" x2="449.3" y2="73.3" stroke="#27a375" stroke-width="1.3"/>
<line x1="449.3" y1="71.4" x2="449.3" y2="75.5" stroke="#27a375" stroke-width="1.3"/>
<line x1="449.3" y1="71.4" x2="456.3" y2="71.4" stroke="#27a375" stroke-width="1.3"/>
<line x1="449.3" y1="75.5" x2="456.3" y2="75.5" stroke="#27a375" stroke-width="1.3"/>
<line x1="445.6" y1="56.2" x2="450.3" y2="56.2" stroke="#27a375" stroke-width="1.3"/>
<line x1="450.3" y1="49.4" x2="450.3" y2="63.8" stroke="#27a375" stroke-width="1.3"/>
<line x1="450.3" y1="63.8" x2="478.9" y2="63.8" stroke="#27a375" stroke-width="1.3"/>
<line x1="478.9" y1="59.9" x2="478.9" y2="67.3" stroke="#27a375" stroke-width="1.3"/>
<line x1="478.9" y1="59.9" x2="497.8" y2="59.9" stroke="#27a375" stroke-width="1.3"/>
<line x1="478.9" y1="67.3" x2="480.5" y2="67.3" stroke="#27a375" stroke-width="1.3"/>
<line x1="450.3" y1="49.4" x2="458.4" y2="49.4" stroke="#27a375" stroke-width="1.3"/>
<line x1="458.3" y1="44.2" x2="458.3" y2="54.7" stroke="#27a375" stroke-width="1.3"/>
<line x1="458.3" y1="54.7" x2="491.7" y2="54.7" stroke="#27a375" stroke-width="1.3"/>
<line x1="491.7" y1="51" x2="491.7" y2="58" stroke="#27a375" stroke-width="1.2"/>
<line x1="458.3" y1="44.4" x2="460.6" y2="44.4" stroke="#27a375" stroke-width="1.3"/>
<line x1="460.6" y1="39" x2="460.6" y2="48.9" stroke="#27a375" stroke-width="1.3"/>
<line x1="460.6" y1="48.9" x2="503.8" y2="48.9" stroke="#27a375" stroke-width="1.3"/>
<line x1="460.6" y1="39" x2="462.1" y2="39" stroke="#27a375" stroke-width="1.3"/>
<line x1="462.1" y1="35.8" x2="462.1" y2="43.5" stroke="#27a375" stroke-width="1.3"/>
<line x1="462.1" y1="43.5" x2="468.6" y2="43.5" stroke="#27a375" stroke-width="1.3"/>
<line x1="468.6" y1="41" x2="468.6" y2="46" stroke="#27a375" stroke-width="1.2"/>
<line x1="462.1" y1="35.8" x2="498.1" y2="35.8" stroke="#27a375" stroke-width="1.3"/>
<line x1="498.1" y1="34.2" x2="498.1" y2="37.5" stroke="#27a375" stroke-width="1.3"/>
<line x1="498.1" y1="34.2" x2="503.8" y2="34.2" stroke="#27a375" stroke-width="1.3"/>
<text x="58.3" y="483" font-size="7.3" fill="#111" text-anchor="end">100/100</text>
<text x="191.8" y="474" font-size="7.3" fill="#111" text-anchor="end">100/100</text>
<text x="299" y="430.9" font-size="7.45" fill="#111" text-anchor="end">100/100</text>
<text x="315.4" y="403.6" font-size="7.3" fill="#111" text-anchor="end">93.8/98</text>
<text x="324.5" y="426.4" font-size="7.3" fill="#111" text-anchor="start">100/100</text>
<text x="414.6" y="231.8" font-size="7.3" fill="#111" text-anchor="end">99.2/100</text>
<text x="439.7" y="235.8" font-size="7.2" fill="#111" text-anchor="end">100/100</text>
<text x="393" y="93.4" font-size="7.3" fill="#111" text-anchor="end">99.6/100</text>
<text x="418.7" y="117" font-size="7.3" fill="#111" text-anchor="end">85.5/97</text>
</g>
</svg>
</body></html>
